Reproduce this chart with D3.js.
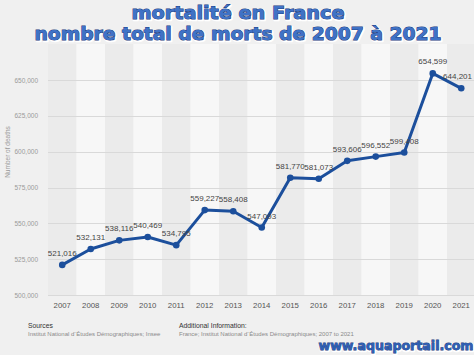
<!DOCTYPE html>
<html>
<head>
<meta charset="utf-8">
<script src="https://cdn.jsdelivr.net/npm/d3@7/dist/d3.min.js"></script>
<style>
  html, body { margin: 0; padding: 0; background: #f0f0f0; }
  svg { display: block; }
</style>
</head>
<body>
<svg id="chart" width="474" height="355"></svg>
<script>
const years = ["2007","2008","2009","2010","2011","2012","2013","2014","2015","2016","2017","2018","2019","2020","2021"];
const deaths = [521016,532131,538116,540469,534795,559227,558408,547093,581770,581073,593606,596552,599408,654599,644201];
const yTicks = [500000,525000,550000,575000,600000,625000,650000];
const titleLines = ["mortalité en France", "nombre total de morts de 2007 à 2021"];
const yAxisTitle = "Number of deaths";
const sourcesHead = "Sources";
const sourcesText = "Institut National d´Études Démographiques; Insee";
const infoHead = "Additional Information:";
const infoText = "France; Institut National d´Études Démographiques; 2007 to 2021";
const watermark = "www.aquaportail.com";

const W = 474, H = 355;
const plot = {left: 48, right: 475.5, top: 44, bottom: 295};
const svg = d3.select("#chart");

svg.append("rect").attr("width", W).attr("height", H).attr("fill", "#f0f0f0");

const x = d3.scaleBand().domain(years).range([plot.left, plot.right]).padding(0);
const y = d3.scaleLinear().domain([500000, 650000]).range([295, 80]);

// column stripes
svg.append("g").selectAll("rect").data(years).join("rect")
  .attr("x", d => x(d))
  .attr("y", plot.top)
  .attr("width", x.bandwidth())
  .attr("height", plot.bottom - plot.top)
  .attr("fill", (d, i) => i % 2 === 0 ? "#ebebeb" : "#f7f7f7");

// gridlines
svg.append("g").selectAll("line").data(yTicks).join("line")
  .attr("x1", plot.left).attr("x2", W)
  .attr("y1", d => Math.round(y(d)) + 0.5).attr("y2", d => Math.round(y(d)) + 0.5)
  .attr("stroke", "#d9d9d9").attr("stroke-width", 1);

// y axis labels
const yAxis = d3.axisLeft(y).tickValues(yTicks).tickSize(0).tickPadding(0)
  .tickFormat(d3.format(",.0f"));
const yg = svg.append("g").attr("transform", "translate(38,0)").call(yAxis);
yg.select(".domain").remove();
yg.selectAll("text").attr("font-family", "Liberation Sans, Arial, sans-serif")
  .attr("font-size", "6.5px").attr("fill", "#9a9a9a");

// x axis labels
const xAxis = d3.axisBottom(x).tickSize(0).tickPadding(0);
const xg = svg.append("g").attr("transform", "translate(0,302)").call(xAxis);
xg.select(".domain").remove();
xg.selectAll("text").attr("font-family", "Liberation Sans, Arial, sans-serif")
  .attr("font-size", "7.8px").attr("fill", "#555");

// y axis title
svg.append("text")
  .attr("transform", "translate(10,152) rotate(-90)")
  .attr("text-anchor", "middle")
  .attr("font-family", "Liberation Sans, Arial, sans-serif")
  .attr("font-size", "6.5px").attr("fill", "#9a9a9a")
  .text(yAxisTitle);

// line
const cx = d => x(d) + x.bandwidth() / 2;
const pts = years.map((yr, i) => ({yr, v: deaths[i]}));
svg.append("path").datum(pts)
  .attr("d", d3.line().x(d => cx(d.yr)).y(d => y(d.v)))
  .attr("fill", "none").attr("stroke", "#1c4f9c").attr("stroke-width", 3)
  .attr("stroke-linejoin", "round").attr("stroke-linecap", "round");

svg.append("g").selectAll("circle").data(pts).join("circle")
  .attr("cx", d => cx(d.yr)).attr("cy", d => y(d.v)).attr("r", 3.3)
  .attr("fill", "#1c4f9c");

// data labels (kept inside the picture)
svg.append("g").selectAll("text").data(pts).join("text")
  .attr("y", d => y(d.v) - 9)
  .attr("text-anchor", "middle")
  .attr("font-family", "Liberation Sans, Arial, sans-serif")
  .attr("font-size", "8px").attr("fill", "#444")
  .text(d => d3.format(",")(d.v))
  .attr("x", function(d) {
    const half = this.getComputedTextLength() / 2;
    return Math.min(cx(d.yr), W - 2 - half);
  });

// footer
const foot = svg.append("g").attr("font-family", "Liberation Sans, Arial, sans-serif");
foot.append("text").attr("x", 28).attr("y", 328).attr("font-size", "6.8px").attr("fill", "#333").text(sourcesHead);
foot.append("text").attr("x", 28).attr("y", 335.5).attr("font-size", "6px").attr("fill", "#8a8a8a").text(sourcesText);
foot.append("text").attr("x", 179).attr("y", 328).attr("font-size", "6.8px").attr("fill", "#333").text(infoHead);
foot.append("text").attr("x", 179).attr("y", 335.5).attr("font-size", "6px").attr("fill", "#8a8a8a").text(infoText);

// title
const titleY = [19, 40];
const titleW = [213, 407];
titleLines.forEach((t, i) => {
  svg.append("text").attr("x", 238 + 1).attr("y", titleY[i] + 1)
    .attr("text-anchor", "middle")
    .attr("font-family", "DejaVu Sans, sans-serif").attr("font-weight", "bold")
    .attr("font-size", "18.5px")
    .attr("textLength", titleW[i]).attr("lengthAdjust", "spacingAndGlyphs")
    .attr("fill", "#ffffff").attr("stroke", "#ffffff").attr("stroke-width", 2.5)
    .attr("stroke-linejoin", "round")
    .text(t);
  svg.append("text").attr("x", 238).attr("y", titleY[i])
    .attr("text-anchor", "middle")
    .attr("font-family", "DejaVu Sans, sans-serif").attr("font-weight", "bold")
    .attr("font-size", "18.5px")
    .attr("textLength", titleW[i]).attr("lengthAdjust", "spacingAndGlyphs")
    .attr("fill", "#3f72c6").attr("stroke", "#1a3b7c").attr("stroke-width", 1)
    .attr("paint-order", "stroke")
    .text(t);
});

// watermark
svg.append("text").attr("x", 474).attr("y", 350.5)
  .attr("text-anchor", "end")
  .attr("font-family", "DejaVu Sans, sans-serif").attr("font-weight", "bold")
  .attr("font-size", "12.5px")
  .attr("textLength", 155).attr("lengthAdjust", "spacingAndGlyphs")
  .attr("fill", "#ffffff").attr("stroke", "#ffffff").attr("stroke-width", 2.5)
  .attr("stroke-linejoin", "round")
  .text(watermark);
svg.append("text").attr("x", 473.5).attr("y", 350)
  .attr("text-anchor", "end")
  .attr("font-family", "DejaVu Sans, sans-serif").attr("font-weight", "bold")
  .attr("font-size", "12.5px")
  .attr("textLength", 155).attr("lengthAdjust", "spacingAndGlyphs")
  .attr("fill", "#2f5fb3").attr("stroke", "#1a3b7c").attr("stroke-width", 0.8)
  .attr("paint-order", "stroke")
  .text(watermark);
</script>
</body>
</html>
